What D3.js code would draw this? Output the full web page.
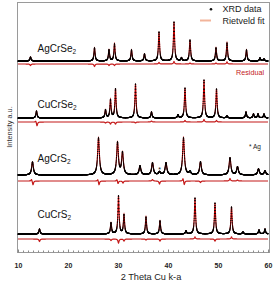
<!DOCTYPE html>
<html>
<head>
<meta charset="utf-8">
<script src="https://cdn.jsdelivr.net/npm/d3@7"></script>
<style>
    body { margin: 0; background: #fff; }
    svg { display: block; }
    text { font-family: "Liberation Sans", Arial, sans-serif; }
</style>
</head>
<body>
<div id="chart"></div>
<script>
// sample names (each gets a subscript 2)
const sampleNames = ["AgCrSe", "CuCrSe", "AgCrS", "CuCrS"];

// peak tables: [2theta, height in a.u.]
const agCrSe2Peaks = [[12.5, 4], [25.3, 13], [28.2, 11], [29.3, 17], [32.7, 11], [35.3, 7], [38.2, 29], [41.2, 39],
    [42.7, 3], [44.4, 21], [49.6, 13], [51.8, 18], [55.7, 11], [58.4, 3], [59.2, 2]];
const cuCrSe2Peaks = [[13.7, 7], [27.5, 8], [28.5, 18], [29.5, 29], [33.5, 34], [36.7, 6], [42.0, 3], [43.4, 30],
    [47.2, 38], [49.7, 29], [51.8, 2], [55.6, 6], [57.1, 4], [58.0, 4], [59.2, 4]];
const agCrS2Peaks = [[12.9, 13], [26.1, 37], [29.9, 32], [30.9, 22], [34.4, 9], [36.9, 12], [38.3, 3], [39.6, 12],
    [43.1, 37], [44.4, 3], [46.5, 13], [52.4, 17], [53.9, 8], [58.1, 6], [59.4, 4]];
const cuCrS2Peaks = [[14.3, 5], [28.6, 11], [30.1, 38], [31.2, 19], [35.6, 17], [38.4, 13], [43.6, 3], [45.4, 36],
    [49.4, 31], [52.7, 27], [55.0, 2], [58.2, 4], [59.4, 5]];

// residual (obs - calc) features: [2theta, amplitude]
const agCrSe2Resid = [[12.5, -1.5], [25.3, -2.5], [28.2, -1.5], [29.3, -1.5], [38.2, 1.5], [41.2, 2.5], [44.4, 1], [49.6, 1], [51.8, 2]];
const cuCrSe2Resid = [[13.55, 1.5], [13.8, -4], [27.5, -1], [28.5, -2], [29.5, -2], [33.5, -1], [36.7, 1], [43.4, 1.5], [47.2, 2.5], [49.7, 1.5]];
const agCrS2Resid = [[12.7, 2], [13.0, -4], [25.95, 2], [26.2, -4], [29.8, 2], [30.0, -3], [31.0, -2], [36.9, 1.5], [38.3, -3],
    [43.0, 3], [43.25, -4], [46.5, -1.5], [52.4, 2.5], [53.9, 1]];
const cuCrS2Resid = [[14.3, -2.5], [28.6, -1.5], [30.1, -4], [31.2, -2], [35.6, -1], [38.4, -2], [45.4, 2], [49.4, -2], [52.7, 2]];

// silver impurity marks
const agMarks = [38.3, 44.4];

// axis ticks
const xTicks = [10, 20, 30, 40, 50, 60];
const xMinorTicks = d3.range(10, 61, 1);

class XrdChart
{
    constructor()
    {
        this.width = 275;
        this.height = 283;
        this.frame = { left: 17.5, right: 269.5, top: 2.5, bottom: 252.5 };
        this.fitColor = "#c00000";
        this.residColor = "#c41a1a";
    }

    init(el)
    {
        this.svg = d3.select(el).append("svg")
            .attr("width", this.width)
            .attr("height", this.height);

        this.x = d3.scaleLinear().domain([10, 60]).range([18, 268]);
        this.y = d3.scaleLinear().domain([0, 250]).range([this.frame.bottom, this.frame.top]);
        this.grid = d3.range(10, 60.001, 0.02);

        this._drawFrame();
        this._drawAxis();
        this._drawPatterns();
        this._drawLegend();
    }

    _drawFrame()
    {
        const f = this.frame;
        this.svg.append("rect")
            .attr("x", f.left).attr("y", f.top)
            .attr("width", f.right - f.left).attr("height", f.bottom - f.top)
            .attr("fill", "none").attr("stroke", "#9a9a9a").attr("stroke-width", 1);
    }

    _drawAxis()
    {
        const g = this.svg.append("g")
            .attr("transform", `translate(0, ${this.frame.bottom})`);

        g.call(d3.axisBottom(this.x).tickValues(xMinorTicks).tickSize(-2).tickFormat(""))
            .call(a => a.select(".domain").remove())
            .call(a => a.selectAll("line").attr("stroke", "#8a8a8a"));

        const major = this.svg.append("g")
            .attr("transform", `translate(0, ${this.frame.bottom})`)
            .call(d3.axisBottom(this.x).tickValues(xTicks).tickSize(-3).tickPadding(11));
        major.select(".domain").remove();
        major.selectAll("line").attr("stroke", "#8a8a8a");
        major.selectAll("text")
            .attr("font-size", 7).attr("fill", "#222").attr("font-weight", "bold")
            .style("font-family", "'Liberation Sans', Arial, sans-serif");

        this.svg.append("text")
            .attr("x", 151).attr("y", 280)
            .attr("text-anchor", "middle")
            .attr("font-size", 9.2).attr("fill", "#222")
            .text("2 Theta Cu k-a");

        this.svg.append("text")
            .attr("transform", "translate(11.5, 127) rotate(-90)")
            .attr("text-anchor", "middle")
            .attr("font-size", 7.3).attr("fill", "#333")
            .text("Intensity a.u.");
    }

    _profile(peaks, fwhm)
    {
        const hw = fwhm / 2;
        return this.grid.map(t => {
            let v = 0;
            peaks.forEach(([p, h]) => {
                const u = (t - p) / hw;
                v += h / (1 + u * u);
            });
            return [t, v];
        });
    }

    _drawPatterns()
    {
        const patterns = [
            { peaks: agCrSe2Peaks, resid: agCrSe2Resid, base: 191.5, rbase: 188.5, fwhm: 0.28, ly: 52 },
            { peaks: cuCrSe2Peaks, resid: cuCrSe2Resid, base: 134.5, rbase: 130.5, fwhm: 0.28, ly: 108 },
            { peaks: agCrS2Peaks, resid: agCrS2Resid, base: 77.5, rbase: 71.5, fwhm: 0.42, ly: 162 },
            { peaks: cuCrS2Peaks, resid: cuCrS2Resid, base: 18.5, rbase: 13.5, fwhm: 0.28, ly: 218 }
        ];

        patterns.forEach((p, i) => {
            const layer = this.svg.append("g").classed("pattern", true);
            const prof = this._profile(p.peaks, p.fwhm);
            const line = d3.line()
                .x(d => this.x(d[0]))
                .y(d => this.y(p.base + d[1]));

            // fit underneath
            layer.append("path")
                .attr("d", line(prof))
                .attr("fill", "none").attr("stroke", this.fitColor).attr("stroke-width", 1.1);

            // observed points on top
            layer.append("g").selectAll("circle")
                .data(prof)
                .join("circle")
                .attr("cx", d => this.x(d[0]))
                .attr("cy", d => this.y(p.base + d[1]))
                .attr("r", 0.6)
                .attr("fill", "#000");

            // residual
            const res = this._profile(p.resid, 0.25);
            layer.append("path")
                .attr("d", d3.line().x(d => this.x(d[0])).y(d => this.y(p.rbase + d[1]))(res))
                .attr("fill", "none").attr("stroke", this.residColor).attr("stroke-width", 1.2);

            const label = layer.append("text")
                .attr("x", 37.5).attr("y", p.ly)
                .attr("font-size", 10).attr("fill", "#111");
            label.append("tspan").text(sampleNames[i]);
            label.append("tspan").attr("font-size", 6.5).attr("dy", 2).text("2");

            if (i === 2)
            {
                layer.selectAll(".ag")
                    .data(agMarks)
                    .join("text")
                    .attr("class", "ag")
                    .attr("x", d => this.x(d))
                    .attr("y", (d, k) => k === 0 ? 172 : 175)
                    .attr("text-anchor", "middle")
                    .attr("font-size", 7).attr("fill", "#111")
                    .text("*");

                layer.append("text")
                    .attr("x", 249).attr("y", 149)
                    .attr("font-size", 6.5).attr("fill", "#222")
                    .text("* Ag");
            }
        });
    }

    _drawLegend()
    {
        const lg = this.svg.append("g").classed("legend", true);
        lg.append("circle").attr("cx", 211).attr("cy", 9.3).attr("r", 1.3).attr("fill", "#111");
        lg.append("text").attr("x", 222.5).attr("y", 12).attr("font-size", 9).attr("fill", "#222").text("XRD data");
        lg.append("line")
            .attr("x1", 200).attr("x2", 211).attr("y1", 20.5).attr("y2", 20.5)
            .attr("stroke", "#f2b49a").attr("stroke-width", 2);
        lg.append("text").attr("x", 222.5).attr("y", 23.5).attr("font-size", 9).attr("fill", "#222").text("Rietveld fit");

        this.svg.append("text")
            .attr("x", 264).attr("y", 75)
            .attr("text-anchor", "end")
            .attr("font-size", 7.2).attr("fill", this.residColor)
            .text("Residual");
    }
}

new XrdChart().init("#chart");
</script>
</body>
</html>
